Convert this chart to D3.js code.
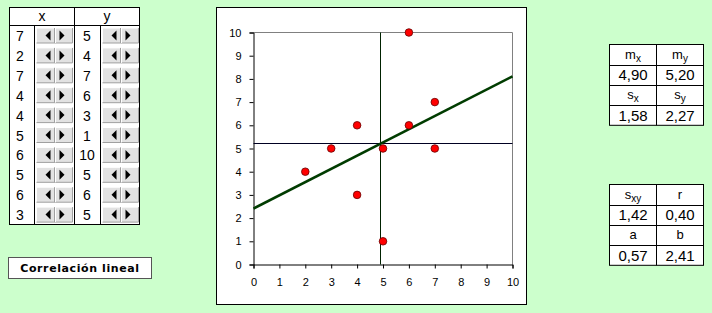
<!DOCTYPE html>
<html>
<head>
<meta charset="utf-8">
<script src="https://cdn.jsdelivr.net/npm/d3@7"></script>
<style>
body { margin: 0; background: #ccffcc; }
text { font-family: "Liberation Sans", Arial, sans-serif; }
</style>
</head>
<body>
<div id="chart-area"></div>
<script>
var xs = [7, 2, 7, 4, 4, 5, 6, 5, 6, 3];
var ys = [5, 4, 7, 6, 3, 1, 10, 5, 6, 5];
var xTicks = [0, 1, 2, 3, 4, 5, 6, 7, 8, 9, 10];
var yTicks = [0, 1, 2, 3, 4, 5, 6, 7, 8, 9, 10];
var meanX = 4.9, meanY = 5.2;
var slope = 0.57, intercept = 2.41;
var stats1 = [["m", "x", "4,90"], ["m", "y", "5,20"], ["s", "x", "1,58"], ["s", "y", "2,27"]];
var stats2 = [["s", "xy", "1,42"], ["r", "", "0,40"], ["a", "", "0,57"], ["b", "", "2,41"]];

var width = 712, height = 313;
var svg = d3.select("#chart-area").append("svg")
    .attr("width", width)
    .attr("height", height);

svg.append("rect").attr("width", width).attr("height", height).attr("fill", "#ccffcc");

// ---- left data table ----
var tbl = svg.append("g");
var rowH = 19.9, top0 = 25;
tbl.append("rect").attr("x", 9.5).attr("y", 7.5).attr("width", 130).attr("height", 217)
    .attr("fill", "white").attr("stroke", "black");
tbl.append("line").attr("x1", 9.5).attr("x2", 139.5).attr("y1", 25.5).attr("y2", 25.5).attr("stroke", "black");
[34.5, 74.5, 100.5].forEach(function(xx) {
    tbl.append("line").attr("x1", xx).attr("x2", xx)
        .attr("y1", xx == 74.5 ? 7.5 : 25.5).attr("y2", 224.5).attr("stroke", "black");
});
tbl.append("text").attr("x", 42).attr("y", 21).attr("text-anchor", "middle").attr("font-size", "14px").text("x");
tbl.append("text").attr("x", 107).attr("y", 21).attr("text-anchor", "middle").attr("font-size", "14px").text("y");

function spinner(g, x0, y0) {
    g.append("rect").attr("x", x0).attr("y", y0).attr("width", 36).attr("height", 15).attr("fill", "#e2e2e2");
    g.append("path").attr("d", "M" + x0 + "," + (y0 + 15) + "V" + y0 + "H" + (x0 + 36))
        .attr("fill", "none").attr("stroke", "#ffffff");
    g.append("path").attr("d", "M" + x0 + "," + (y0 + 15) + "H" + (x0 + 36) + "V" + y0)
        .attr("fill", "none").attr("stroke", "#a0a0a0");
    g.append("line").attr("x1", x0 + 18).attr("x2", x0 + 18).attr("y1", y0).attr("y2", y0 + 15).attr("stroke", "#a0a0a0");
    g.append("line").attr("x1", x0 + 19).attr("x2", x0 + 19).attr("y1", y0).attr("y2", y0 + 15).attr("stroke", "#ffffff");
    var cy = y0 + 7.5;
    g.append("path").attr("d", "M" + (x0 + 9) + "," + cy + "L" + (x0 + 14) + "," + (cy - 5) + "V" + (cy + 5) + "Z").attr("fill", "black");
    g.append("path").attr("d", "M" + (x0 + 28) + "," + cy + "L" + (x0 + 23) + "," + (cy - 5) + "V" + (cy + 5) + "Z").attr("fill", "black");
}

xs.forEach(function(v, i) {
    var t = top0 + i * rowH;
    tbl.append("text").attr("x", 20).attr("y", t + 16).attr("text-anchor", "middle").attr("font-size", "14px").text(v);
    tbl.append("text").attr("x", 87).attr("y", t + 16).attr("text-anchor", "middle").attr("font-size", "14px").text(ys[i]);
    spinner(tbl, 36.5, t + 3);
    spinner(tbl, 102.5, t + 3);
});

// ---- button ----
svg.append("rect").attr("x", 8.5).attr("y", 257.5).attr("width", 143).attr("height", 21)
    .attr("fill", "white").attr("stroke", "#555");
svg.append("text").attr("x", 80).attr("y", 272).attr("text-anchor", "middle")
    .attr("font-size", "11px").attr("font-weight", "bold").attr("letter-spacing", "0.6px")
    .style("font-family", "'DejaVu Sans', sans-serif")
    .text("Correlación lineal");

// ---- chart ----
svg.append("rect").attr("x", 216.5).attr("y", 7.5).attr("width", 310).attr("height", 297)
    .attr("fill", "white").attr("stroke", "black");

var x = d3.scaleLinear().domain([0, 10]).range([253.5, 512.5]);
var y = d3.scaleLinear().domain([0, 10]).range([264.5, 32.5]);

var g = svg.append("g");
g.append("path").attr("d", "M" + x(0) + "," + y(10) + "H" + x(10) + "V" + y(0))
    .attr("fill", "none").attr("stroke", "#808080");

g.append("g").attr("transform", "translate(0," + y(0) + ")")
    .call(d3.axisBottom(x).tickValues(xTicks).tickSize(4).tickPadding(10))
    .call(function(a) { a.selectAll("text").attr("font-size", "11px").attr("fill", "black").style("font-family", "'Liberation Sans', Arial, sans-serif"); });
g.append("g").attr("transform", "translate(" + x(0) + ",0)")
    .call(d3.axisLeft(y).tickValues(yTicks).tickSize(4).tickPadding(8))
    .call(function(a) { a.selectAll("text").attr("font-size", "11px").attr("fill", "black").style("font-family", "'Liberation Sans', Arial, sans-serif"); });
g.selectAll(".domain").attr("stroke", "black");

// mean lines (snapped to pixel grid)
var mx = Math.floor(x(meanX)) + 0.5, my = Math.floor(y(meanY)) + 0.5;
g.append("line").attr("x1", mx).attr("x2", mx).attr("y1", y(0)).attr("y2", y(10))
    .attr("stroke", "#002200").attr("stroke-width", 1);
g.append("line").attr("x1", x(0)).attr("x2", x(10)).attr("y1", my).attr("y2", my)
    .attr("stroke", "#000022").attr("stroke-width", 1);

// regression line
g.append("line").attr("x1", x(0)).attr("x2", x(10))
    .attr("y1", y(intercept)).attr("y2", y(intercept + slope * 10))
    .attr("stroke", "#003c00").attr("stroke-width", 2.6);

g.selectAll("circle").data(xs).enter().append("circle")
    .attr("cx", function(d) { return x(d); })
    .attr("cy", function(d, i) { return y(ys[i]); })
    .attr("r", 3.8)
    .attr("fill", "#ff0000").attr("stroke", "#660000").attr("stroke-width", 0.8);

// ---- stats tables ----
function statsTable(data, top) {
    var t = svg.append("g");
    var lx = 609.5, cw = 47, rh = 20.2;
    t.append("rect").attr("x", lx).attr("y", top).attr("width", cw * 2).attr("height", rh * 4)
        .attr("fill", "white").attr("stroke", "black");
    t.append("line").attr("x1", lx + cw).attr("x2", lx + cw).attr("y1", top).attr("y2", top + rh * 4).attr("stroke", "black");
    [1, 2, 3].forEach(function(k) {
        t.append("line").attr("x1", lx).attr("x2", lx + cw * 2)
            .attr("y1", Math.round(top + rh * k) + 0.5).attr("y2", Math.round(top + rh * k) + 0.5).attr("stroke", "black");
    });
    data.forEach(function(d, i) {
        var col = i % 2, pair = Math.floor(i / 2);
        var cx = lx + cw * col + cw / 2;
        var ry = top + rh * pair * 2;
        var lab = t.append("text").attr("x", cx).attr("y", ry + 14).attr("text-anchor", "middle").attr("font-size", "13px");
        lab.append("tspan").text(d[0]);
        if (d[1]) lab.append("tspan").attr("font-size", "10px").attr("dy", 3).text(d[1]);
        t.append("text").attr("x", cx).attr("y", ry + rh + 15.5).attr("text-anchor", "middle").attr("font-size", "15px").text(d[2]);
    });
}
statsTable(stats1, 44.5);
statsTable(stats2, 184.5);
</script>
</body>
</html>
